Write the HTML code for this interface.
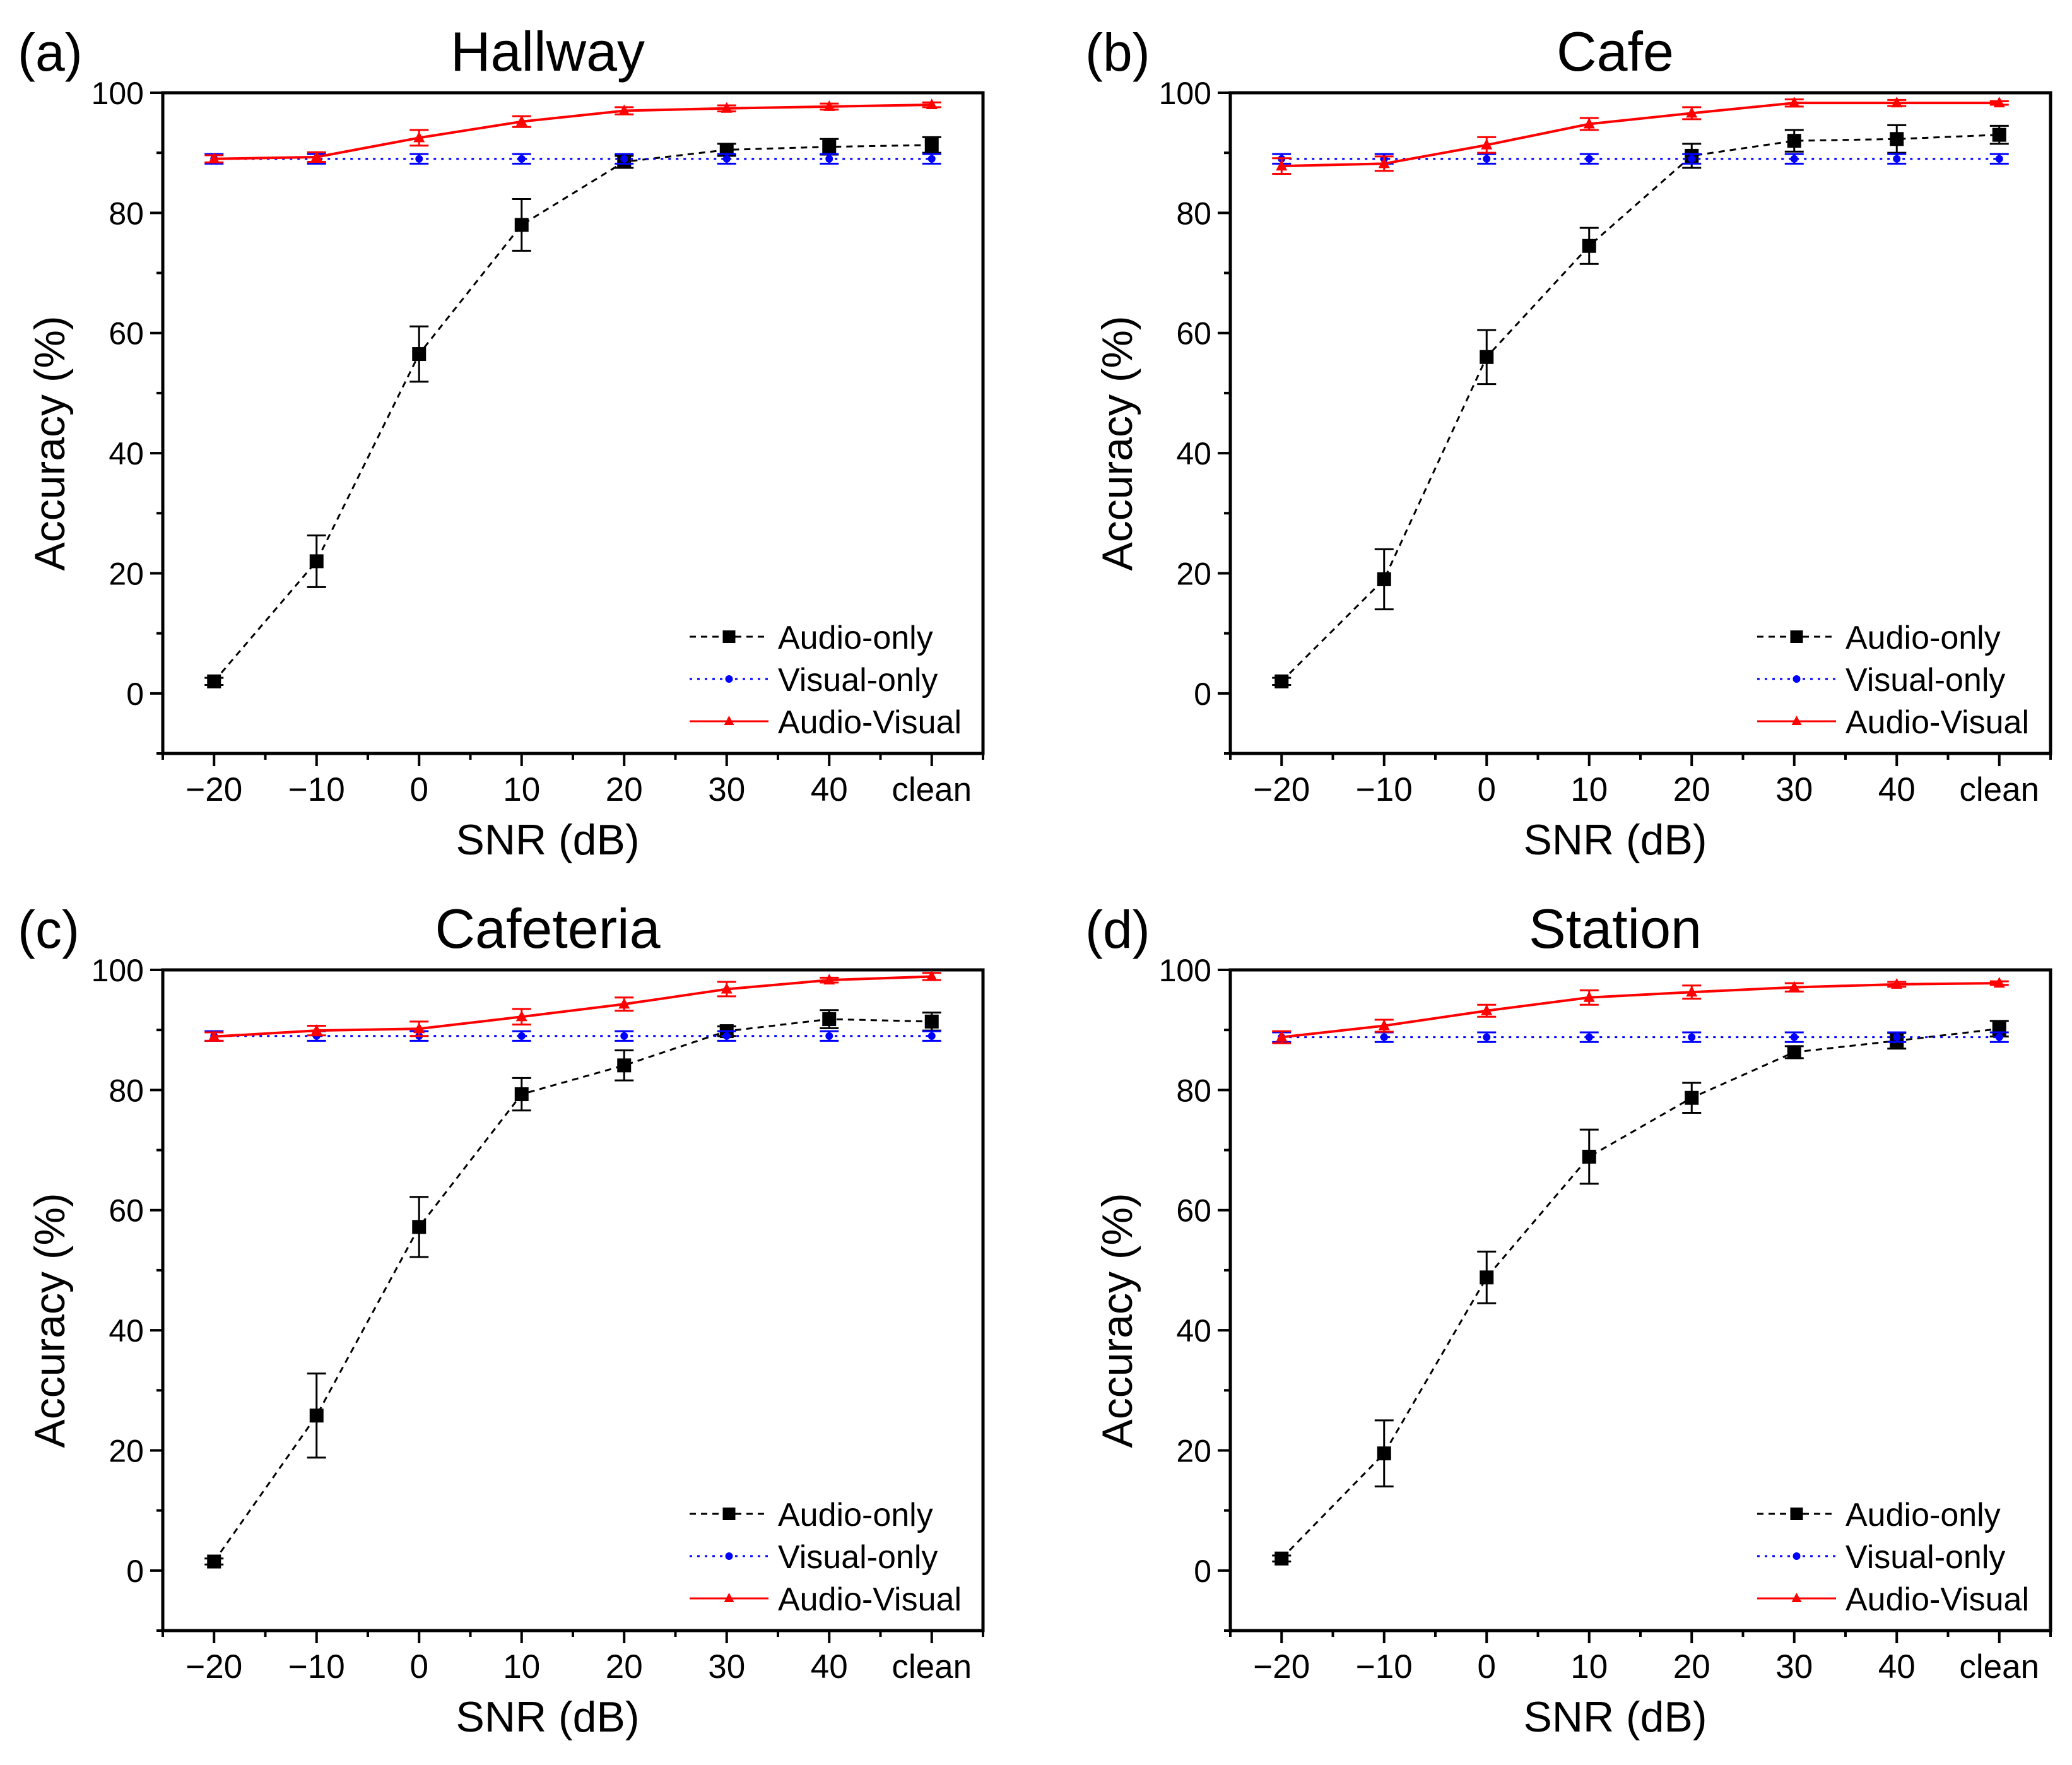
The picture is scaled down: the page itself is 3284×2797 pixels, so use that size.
<!DOCTYPE html>
<html><head><meta charset="utf-8">
<style>
html,body{margin:0;padding:0;background:#fff;}
svg{display:block;font-family:"Liberation Sans",Arial,sans-serif;}
</style></head>
<body>
<svg id="fig" width="3284" height="2797" viewBox="0 0 3284 2797" xmlns="http://www.w3.org/2000/svg"></svg>
<script>
const categories = ["\u221220","\u221210","0","10","20","30","40","clean"];
const yTicks = [0,20,40,60,80,100];
const panelTitles = ["Hallway","Cafe","Cafeteria","Station"];
const panelLetters = ["(a)","(b)","(c)","(d)"];
const seriesNames = ["Audio-only","Visual-only","Audio-Visual"];

const hallwayAudio = [2,22,56.5,78,88.5,90.5,91,91.3];
const hallwayAudioErr = [0.6,4.3,4.6,4.3,1,1,1.3,1.3];
const hallwayVisual = [89,89,89,89,89,89,89,89];
const hallwayVisualErr = [0.8,0.8,0.8,0.8,0.8,0.8,0.8,0.8];
const hallwayAV = [89,89.3,92.5,95.2,97,97.4,97.7,98];
const hallwayAVErr = [0.6,0.8,1.3,0.9,0.6,0.5,0.5,0.4];

const cafeAudio = [2,19,56,74.5,89.5,92,92.3,93];
const cafeAudioErr = [0.6,5,4.5,3,2,1.8,2.3,1.5];
const cafeVisual = [89,89,89,89,89,89,89,89];
const cafeVisualErr = [0.8,0.8,0.8,0.8,0.8,0.8,0.8,0.8];
const cafeAV = [87.8,88.2,91.3,94.8,96.6,98.3,98.3,98.3];
const cafeAVErr = [1.3,1.2,1.3,1,1,0.6,0.5,0.3];

const cafeteriaAudio = [1.5,25.8,57.2,79.3,84.1,89.8,91.8,91.4];
const cafeteriaAudioErr = [0.5,7,5,2.7,2.5,0.8,1.5,1.5];
const cafeteriaVisual = [89,89,89,89,89,89,89,89];
const cafeteriaVisualErr = [0.8,0.8,0.8,0.8,0.8,0.8,0.8,0.8];
const cafeteriaAV = [88.9,89.9,90.2,92.2,94.3,96.8,98.3,98.9];
const cafeteriaAVErr = [0.7,0.8,1.2,1.3,1.1,1.2,0.4,0.6];

const stationAudio = [2,19.5,48.8,68.9,78.7,86.3,88.2,90.2];
const stationAudioErr = [0.5,5.5,4.3,4.5,2.5,1,1.3,1.3];
const stationVisual = [88.8,88.8,88.8,88.8,88.8,88.8,88.8,88.8];
const stationVisualErr = [0.8,0.8,0.8,0.8,0.8,0.8,0.8,0.8];
const stationAV = [88.8,90.7,93.2,95.4,96.3,97.1,97.6,97.8];
const stationAVErr = [1,1,1,1.2,1.1,0.7,0.4,0.3];

const panelData = [
 [[hallwayAudio,hallwayAudioErr],[hallwayVisual,hallwayVisualErr],[hallwayAV,hallwayAVErr]],
 [[cafeAudio,cafeAudioErr],[cafeVisual,cafeVisualErr],[cafeAV,cafeAVErr]],
 [[cafeteriaAudio,cafeteriaAudioErr],[cafeteriaVisual,cafeteriaVisualErr],[cafeteriaAV,cafeteriaAVErr]],
 [[stationAudio,stationAudioErr],[stationVisual,stationVisualErr],[stationAV,stationAVErr]]
];

const NS="http://www.w3.org/2000/svg";
const svg=document.getElementById('fig');
function mk(tag,attrs,parent,text){const e=document.createElementNS(NS,tag);for(const k in attrs)e.setAttribute(k,attrs[k]);if(text!==undefined)e.textContent=text;(parent||svg).appendChild(e);return e;}

const boxes=[{l:258,t:147},{l:1950,t:147},{l:258,t:1537},{l:1950,t:1537}];
const W=1300,H=1047;
const colors=["#000","#0000ff","#ff0000"];
const slugs=["audio-only","visual-only","audio-visual"];

boxes.forEach((b,pi)=>{
  const g=mk('g',{});
  
  
  const xs=i=>b.l+(i+0.5)*(W/categories.length);
  const ys=v=>b.t+(100-v)*(H/110);
  const cx=b.l+610;
  const tt=mk('text',{x:cx,y:b.t-35,'font-size':88,'text-anchor':'middle'},g,panelTitles[pi]);
  
  
  const lt=mk('text',{x:b.l-230,y:b.t-35,'font-size':84},g,panelLetters[pi]);
  
  
  const fr=mk('rect',{x:b.l,y:b.t,width:W,height:H,fill:'none',stroke:'#000','stroke-width':5},g);
  
  
  for(let v=-10;v<=100;v+=10){
    const major=yTicks.includes(v);
    mk('line',{x1:b.l-(major?20:10),x2:b.l,y1:ys(v),y2:ys(v),stroke:'#000','stroke-width':4},g);
  }
  yTicks.forEach(v=>{
    const t=mk('text',{x:b.l-30,y:ys(v)+18,'font-size':50,'text-anchor':'end'},g,String(v));
    
    
  });
  for(let i=0;i<=categories.length*2;i++){
    const x=b.l+i*(W/categories.length)/2;
    const major=i%2===1;
    mk('line',{x1:x,x2:x,y1:b.t+H,y2:b.t+H+(major?20:10),stroke:'#000','stroke-width':4},g);
  }
  categories.forEach((c,i)=>{
    const t=mk('text',{x:xs(i),y:b.t+H+75,'font-size':53,'text-anchor':'middle'},g,c);
    
    
  });
  const xt=mk('text',{x:cx,y:b.t+H+160,'font-size':68,'text-anchor':'middle'},g,'SNR (dB)');
  
  
  const yx=b.l-156, yy=b.t+H/2+32;
  const yt=mk('text',{x:yx,y:yy,'font-size':68,'text-anchor':'middle',transform:`rotate(-90 ${yx} ${yy})`},g,'Accuracy (%)');
  
  

  panelData[pi].forEach((s,si)=>{
    const [vals,errs]=s;
    const sg=mk('g',{},g);
    
    
    const pts=vals.map((v,i)=>xs(i)+','+ys(v)).join(' ');
    const dash=si===0?'10,8':(si===1?'4,8':'none');
    mk('polyline',{points:pts,fill:'none',stroke:colors[si],'stroke-width':si===2?4:3,'stroke-dasharray':dash},sg);
    vals.forEach((v,i)=>{
      const x=xs(i),e=errs[i];
      mk('line',{x1:x,x2:x,y1:ys(v+e),y2:ys(v-e),stroke:colors[si],'stroke-width':3},sg);
      mk('line',{x1:x-15,x2:x+15,y1:ys(v+e),y2:ys(v+e),stroke:colors[si],'stroke-width':3},sg);
      mk('line',{x1:x-15,x2:x+15,y1:ys(v-e),y2:ys(v-e),stroke:colors[si],'stroke-width':3},sg);
      let m;
      if(si===0) m=mk('rect',{x:x-11,y:ys(v)-11,width:22,height:22,fill:'#000'},sg);
      else if(si===1) m=mk('circle',{cx:x,cy:ys(v),r:6,fill:'#0000ff'},sg);
      else m=mk('polygon',{points:`${x},${ys(v)-10} ${x-9},${ys(v)+7} ${x+9},${ys(v)+7}`,fill:'#ff0000'},sg);
      
      
    });
  });

  const lg=mk('g',{},g);
  
  
  const lx0=b.l+835, lx1=b.l+960, tx=b.l+975;
  seriesNames.forEach((n,si)=>{
    const yy=b.t+862+si*67;
    const dash=si===0?'10,8':(si===1?'4,8':'none');
    const le=mk('g',{},lg);
    
    
    mk('line',{x1:lx0,x2:lx1,y1:yy,y2:yy,stroke:colors[si],'stroke-width':3,'stroke-dasharray':dash},le);
    const mx=(lx0+lx1)/2;
    if(si===0) mk('rect',{x:mx-10,y:yy-10,width:20,height:20,fill:'#000'},le);
    else if(si===1) mk('circle',{cx:mx,cy:yy,r:6,fill:'#0000ff'},le);
    else mk('polygon',{points:`${mx},${yy-9} ${mx-8},${yy+6} ${mx+8},${yy+6}`,fill:'#ff0000'},le);
    mk('text',{x:tx,y:yy+19,'font-size':52},le,n);
  });
});
</script>
</body></html>
